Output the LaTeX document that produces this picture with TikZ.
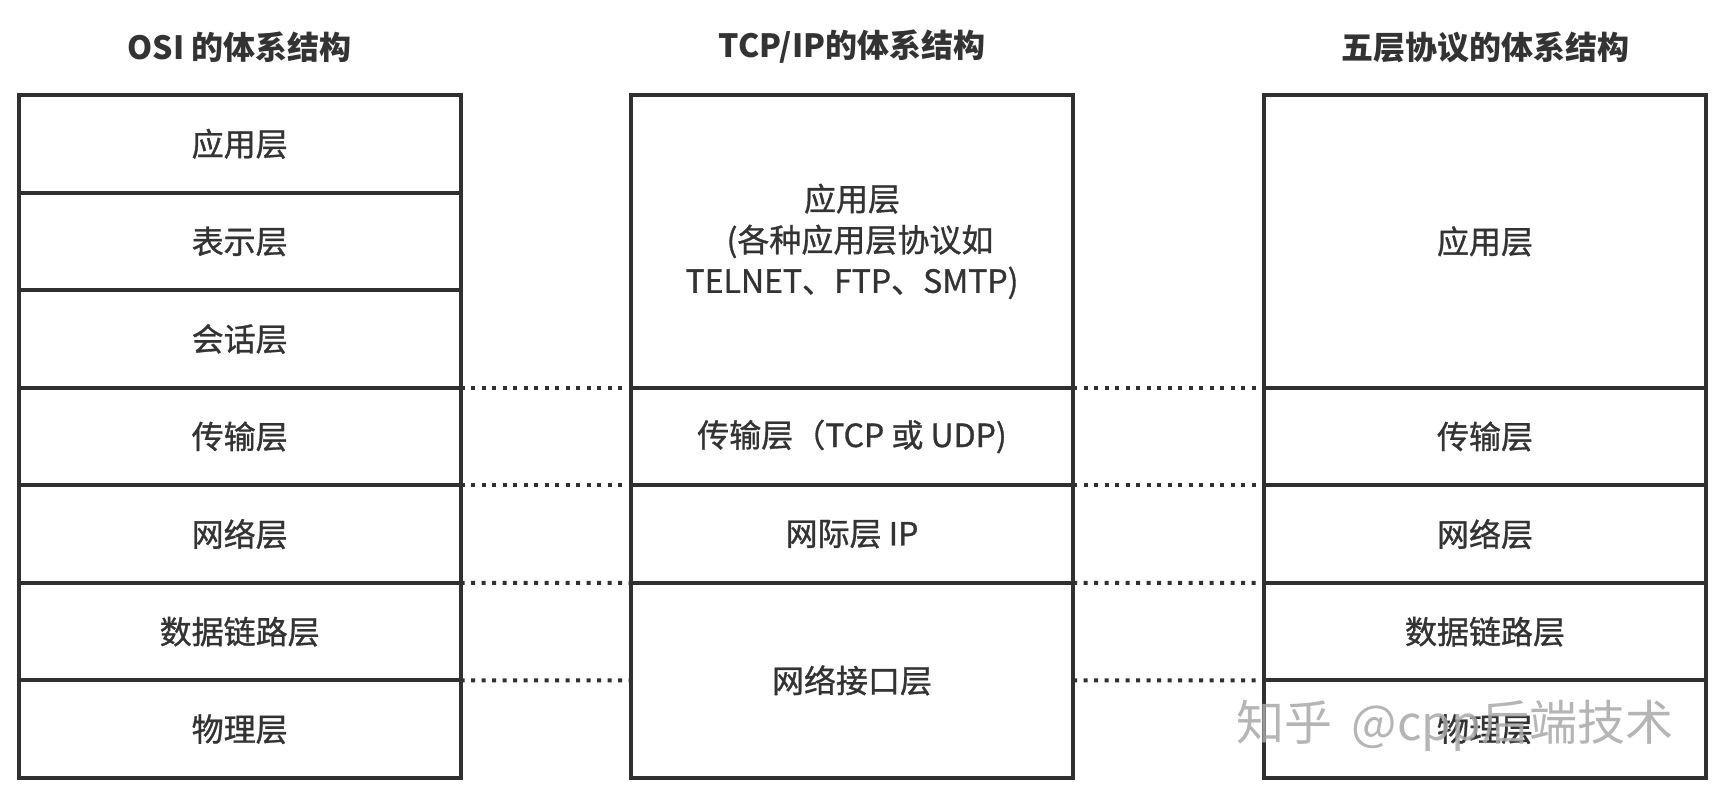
\documentclass[tikz,border=0pt]{standalone}
\usepackage{fontspec}
\setmainfont{Noto Sans CJK SC}
\newfontfamily\labfont{Noto Sans CJK SC}[FakeBold=1.0]
\definecolor{ink}{HTML}{303030}
\definecolor{txt}{HTML}{333333}
\definecolor{wm}{HTML}{A8A8A8}
\begin{document}
\begin{tikzpicture}[x=0.5pt,y=-0.5pt,
  layer/.style={draw=ink, line width=2pt, rectangle, inner sep=0pt, outer sep=0pt,
    minimum width=221pt, text=txt, align=center,
    font=\labfont\fontsize{16}{20.5}\selectfont},
  row/.style={layer, minimum height=48.79pt},
  coltitle/.style={text=txt, font=\fontsize{16}{20}\selectfont\bfseries},
  link/.style={draw=ink, line width=2pt, dash pattern=on 2pt off 3.25pt},
  watermark/.style={text=wm, opacity=0.85, font=\fontsize{24}{24}\selectfont}]
\useasboundingbox (0,0) rectangle (1728,802);
% titles
\node[coltitle] (t1) at (239.7,47) {OSI 的体系结构};
\node[coltitle] (t2) at (852,47) {TCP/IP的体系结构};
\node[coltitle] (t3) at (1485,47) {五层协议的体系结构};
% OSI column
\node[row] (o1) at (239.7,143.8) {应用层};
\node[row] (o2) at (239.7,241.4) {表示层};
\node[row] (o3) at (239.7,339.0) {会话层};
\node[row] (o4) at (239.7,436.5) {传输层};
\node[row] (o5) at (239.7,534.1) {网络层};
\node[row] (o6) at (239.7,631.7) {数据链路层};
\node[row] (o7) at (239.7,729.2) {物理层};
% TCP/IP column
\node[layer, minimum height=146.36pt] (p1) at (852,241.4) {应用层\\\hspace*{0.5em}(各种应用层协议如\\TELNET、FTP、SMTP)};
\node[row] (p2) at (852,436.5) {传输层（TCP 或 UDP)};
\node[row] (p3) at (852,534.1) {网际层 IP};
\node[layer, minimum height=97.57pt] (p4) at (852,680.4) {网络接口层};
% five-layer column
\node[layer, minimum height=146.36pt] (f1) at (1485,241.4) {应用层};
\node[row] (f2) at (1485,436.5) {传输层};
\node[row] (f3) at (1485,534.1) {网络层};
\node[row] (f4) at (1485,631.7) {数据链路层};
\node[row] (f5) at (1485,729.2) {物理层};
% dotted correspondences
\draw[link] (o4.north east) -- (p2.north west);
\draw[link] (o5.north east) -- (p3.north west);
\draw[link] (o6.north east) -- (p4.north west);
\draw[link] (o7.north east) -- (p4.west);
\draw[link] (p2.north east) -- (f2.north west);
\draw[link] (p3.north east) -- (f3.north west);
\draw[link] (p4.north east) -- (f4.north west);
\draw[link] (p4.east) -- (f5.north west);
% watermark
\node[watermark] (wmk) at (1455,726) {知乎 \,@cpp后端技术};
\end{tikzpicture}
\end{document}
